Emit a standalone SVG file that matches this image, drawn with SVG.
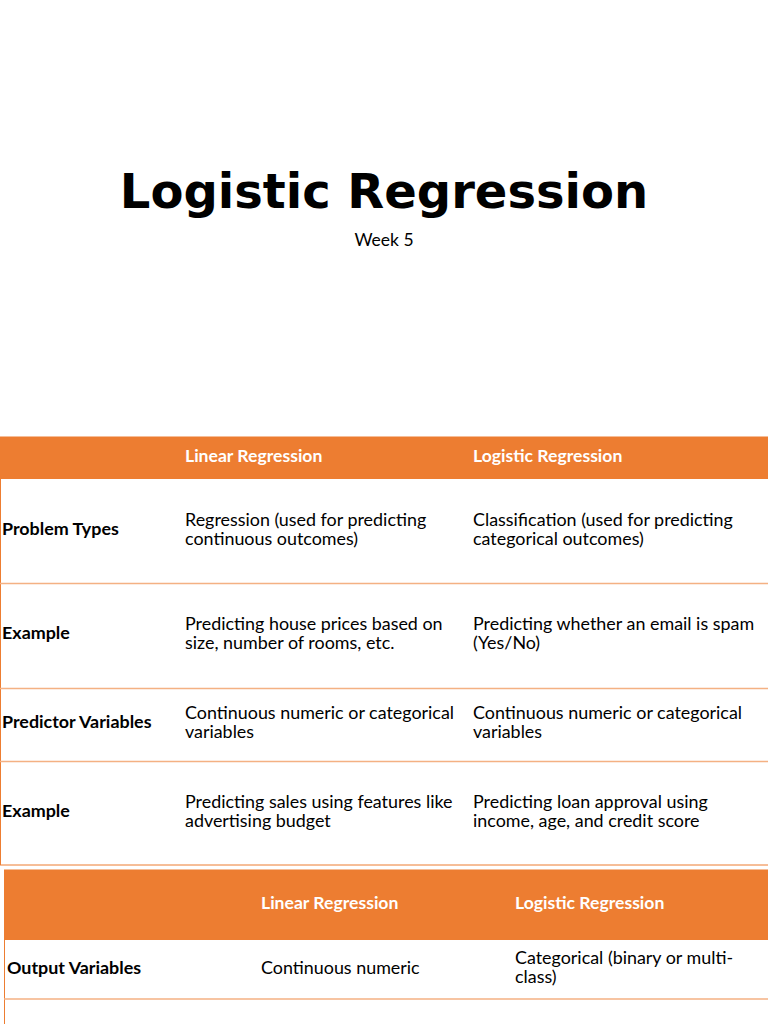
<svg xmlns="http://www.w3.org/2000/svg" width="768" height="1024" viewBox="0 0 768 1024">
<style>
.t{font-family:Lato,"Open Sans",sans-serif;font-size:17.9px;fill:#000}
.b{font-weight:bold}
.h{font-family:Lato,"Open Sans",sans-serif;font-size:17.6px;font-weight:bold;fill:#fff}
.ln{stroke:#F4B183;stroke-width:1.5}
</style>
<rect width="768" height="1024" fill="#fff"/>
<g id="title">
<text x="384" y="208" text-anchor="middle" font-family="DejaVu Sans,sans-serif" font-weight="bold" font-size="48">Logistic Regression</text>
<text x="384" y="246" text-anchor="middle" font-family="Lato,sans-serif" font-size="17.5">Week 5</text>
</g>
<g id="table1">
<rect x="0.5" y="437" width="780" height="428" fill="#fff" stroke="#ED7D31" stroke-width="1"/>
<rect x="0" y="437" width="780" height="42" fill="#ED7D31"/>
<line class="ln" x1="0" y1="583.5" x2="768" y2="583.5"/>
<line class="ln" x1="0" y1="688.5" x2="768" y2="688.5"/>
<line class="ln" x1="0" y1="761.5" x2="768" y2="761.5"/>
<text class="h" x="185" y="462">Linear Regression</text>
<text class="h" x="473" y="462">Logistic Regression</text>
<text class="t b" x="2" y="535">Problem Types</text>
<text class="t" x="185" y="526">Regression (used for predicting</text>
<text class="t" x="185" y="545">continuous outcomes)</text>
<text class="t" x="473" y="526">Classification (used for predicting</text>
<text class="t" x="473" y="545">categorical outcomes)</text>
<text class="t b" x="2" y="639">Example</text>
<text class="t" x="185" y="630">Predicting house prices based on</text>
<text class="t" x="185" y="649">size, number of rooms, etc.</text>
<text class="t" x="473" y="630">Predicting whether an email is spam</text>
<text class="t" x="473" y="649">(Yes/No)</text>
<text class="t b" x="2" y="728">Predictor Variables</text>
<text class="t" x="185" y="719">Continuous numeric or categorical</text>
<text class="t" x="185" y="738">variables</text>
<text class="t" x="473" y="719">Continuous numeric or categorical</text>
<text class="t" x="473" y="738">variables</text>
<text class="t b" x="2" y="817">Example</text>
<text class="t" x="185" y="808">Predicting sales using features like</text>
<text class="t" x="185" y="827">advertising budget</text>
<text class="t" x="473" y="808">Predicting loan approval using</text>
<text class="t" x="473" y="827">income, age, and credit score</text>
</g>
<g id="table2">
<rect x="4.5" y="870" width="780" height="200" fill="#fff" stroke="#ED7D31" stroke-width="1"/>
<rect x="4" y="870" width="780" height="70" fill="#ED7D31"/>
<line class="ln" x1="4" y1="999" x2="768" y2="999"/>
<text class="h" x="261" y="909">Linear Regression</text>
<text class="h" x="515" y="909">Logistic Regression</text>
<text class="t b" x="7" y="974">Output Variables</text>
<text class="t" x="261" y="974">Continuous numeric</text>
<text class="t" x="515" y="964">Categorical (binary or multi-</text>
<text class="t" x="515" y="983">class)</text>
</g>
</svg>
